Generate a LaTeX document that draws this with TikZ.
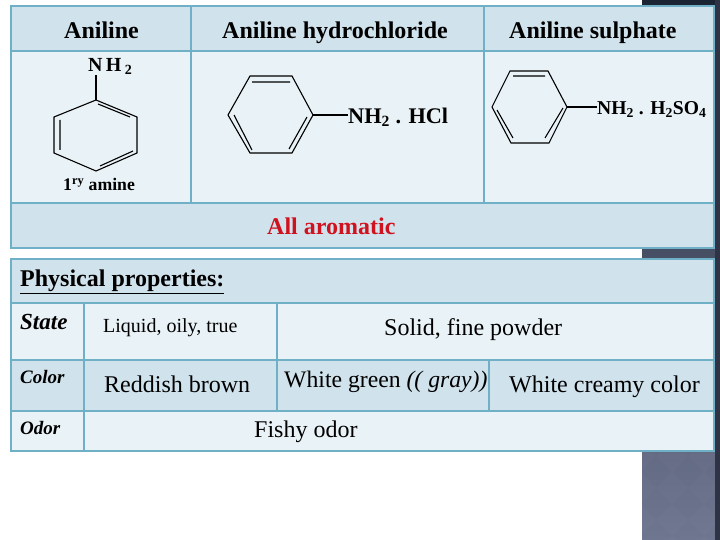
\documentclass[tikz,border=0pt]{standalone}
\usepackage{fontspec}
\setmainfont{Liberation Serif}
\usetikzlibrary{positioning}
\definecolor{headblue}{HTML}{D0E2EC}
\definecolor{cellblue}{HTML}{E9F2F6}
\definecolor{rulblue}{HTML}{6FB0C6}
\definecolor{stripdark}{HTML}{1B2433}
\definecolor{stripmid}{HTML}{4A5268}
\definecolor{striplow}{HTML}{6F7690}
\definecolor{stripedge}{HTML}{2E3446}
\definecolor{redtxt}{HTML}{D0121E}
\tikzset{
	headcell/.style={fill=headblue, draw=rulblue, line width=1.8pt},
	lightcell/.style={fill=cellblue, draw=rulblue, line width=1.8pt},
	bond/.style={line width=1.1pt, black},
	label/.style={anchor=mid west, inner sep=0pt, black},
}
\begin{document}
\begin{tikzpicture}[x=1pt, y=-1pt]
	\useasboundingbox (0,0) rectangle (720,540);
	% side strip
	\fill[white] (0,0) rectangle (720,540);
	\shade[top color=stripdark, bottom color=striplow, middle color=stripmid] (642,0) rectangle (720,540);
	\begin{scope}
		\clip (642,0) rectangle (720,540);
		\foreach \i in {0,1,...,4} {
			\foreach \j in {0,1,...,5} {
				\fill[white, opacity=0.02] (640+\i*32,440+\j*32) -- (656+\i*32,456+\j*32) -- (640+\i*32,472+\j*32) -- (624+\i*32,456+\j*32) -- cycle;
			}
		}
	\end{scope}
	\fill[stripedge] (715,0) rectangle (720,540);
	% first table
	\path[headcell] (11,6) rectangle (191,51);
	\path[headcell] (191,6) rectangle (484,51);
	\path[headcell] (484,6) rectangle (714,51);
	\path[lightcell] (11,51) rectangle (191,203);
	\path[lightcell] (191,51) rectangle (484,203);
	\path[lightcell] (484,51) rectangle (714,203);
	\path[headcell] (11,203) rectangle (714,248);
	\node[label, font=\bfseries\fontsize{24}{24}\selectfont] (aniline) at (64,36) {Aniline};
	\node[label, font=\bfseries\fontsize{24}{24}\selectfont] (hcl) at (222,36) {Aniline hydrochloride};
	\node[label, font=\bfseries\fontsize{24}{24}\selectfont] (sulphate) at (509,36) {Aniline sulphate};
	\node[label, font=\bfseries\fontsize{24}{24}\selectfont, text=redtxt] (aromatic) at (267,232) {All aromatic};
	\node[label, font=\bfseries\fontsize{17.7}{18}\selectfont] (amine) at (63,188) {1\textsuperscript{ry} amine};
	% ring of aniline
	\node[label, font=\bfseries\fontsize{20}{20}\selectfont] (nha) at (88,69) {N\,H\,$_{\mathbf 2}$};
	\coordinate (a1) at (96,100);
	\draw[bond] (a1) -- (137,117) -- (137,153) -- (96,171) -- (54,153) -- (54,117) -- cycle;
	\draw[bond] (98,104) -- (130,117) (60,120) -- (60,150) (100,166) -- (133,151);
	\draw[bond] (a1) -- (a1 |- nha.south);
	% ring of the hydrochloride
	\node[label, font=\bfseries\fontsize{22.3}{22}\selectfont] (nhb) at (348,121) {NH$_{\mathbf 2}$ . HCl};
	\coordinate (b1) at (313,115);
	\draw[bond] (b1) -- (292,153) -- (250,153) -- (228,115) -- (250,76) -- (292,76) -- cycle;
	\draw[bond] (252,82) -- (290,82) (289,149) -- (307,117) (234,115) -- (252,150);
	\draw[line width=1.5pt] (b1) -- (b1 -| nhb.west);
	% ring of the sulphate
	\node[label, font=\bfseries\fontsize{19.6}{20}\selectfont] (nhc) at (597,112) {NH$_{\mathbf 2}$ . H$_{\mathbf 2}$SO$_{\mathbf 4}$};
	\coordinate (c1) at (567,107);
	\draw[bond] (c1) -- (549,143) -- (511,143) -- (492,107) -- (510,71) -- (548,71) -- cycle;
	\draw[bond] (513,76) -- (545,76) (545,138) -- (563,108) (497,110) -- (513,138);
	\draw[bond] (c1) -- (c1 -| nhc.west);
	% second table
	\path[headcell] (11,259) rectangle (714,303);
	\path[lightcell] (11,303) rectangle (84,360);
	\path[lightcell] (84,303) rectangle (277,360);
	\path[lightcell] (277,303) rectangle (714,360);
	\path[headcell] (11,360) rectangle (84,411);
	\path[headcell] (84,360) rectangle (277,411);
	\path[headcell] (277,360) rectangle (489,411);
	\path[headcell] (489,360) rectangle (714,411);
	\path[lightcell] (11,411) rectangle (84,451);
	\path[lightcell] (84,411) rectangle (714,451);
	\node[label, font=\bfseries\fontsize{24}{24}\selectfont] (physical) at (20,284) {\underline{Physical properties:}};
	\node[label, font=\bfseries\itshape\fontsize{23}{23}\selectfont] (state) at (20,327) {State};
	\node[label, font=\bfseries\itshape\fontsize{19}{19}\selectfont] (color) at (20,381) {Color};
	\node[label, font=\bfseries\itshape\fontsize{19}{19}\selectfont] (odor) at (20,432) {Odor};
	\node[label, font=\fontsize{20}{20}\selectfont] (liquid) at (103,330) {Liquid, oily, true};
	\node[label, font=\fontsize{24}{24}\selectfont] (reddish) at (104,390) {Reddish brown};
	\node[label, font=\fontsize{24}{24}\selectfont] (solid) at (384,333) {Solid, fine powder};
	\node[label, font=\fontsize{23.7}{24}\selectfont] (white) at (284,385) {White green \textit{(( gray))}};
	\node[label, font=\fontsize{24}{24}\selectfont] (creamy) at (509,390) {White creamy color};
	\node[label, font=\fontsize{24}{24}\selectfont] (fishy) at (254,435) {Fishy odor};
\end{tikzpicture}
\end{document}
